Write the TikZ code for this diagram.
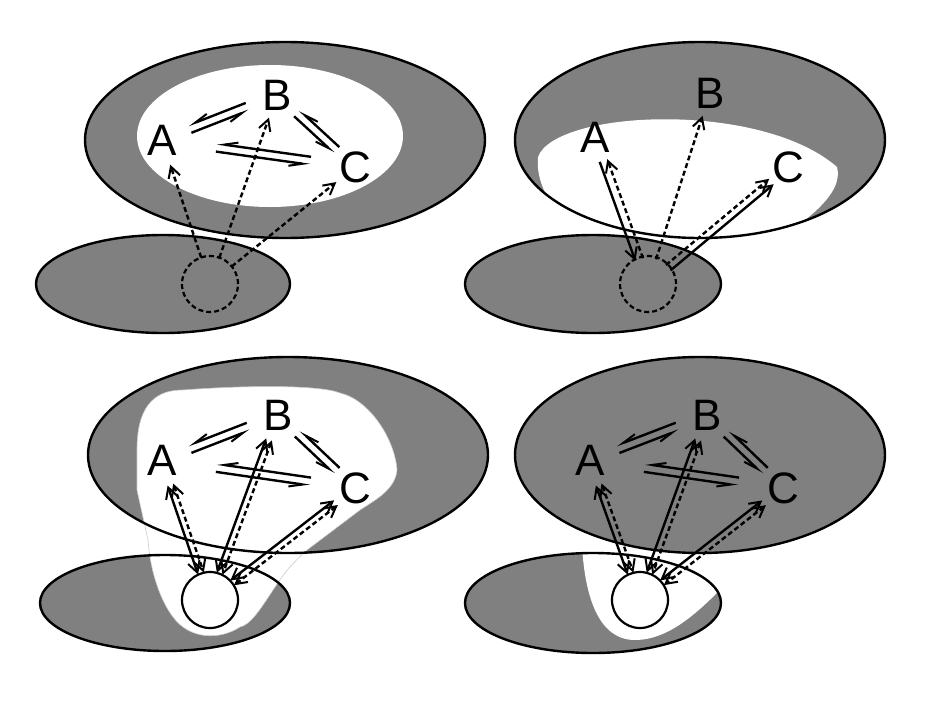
\documentclass[tikz,border=0pt]{standalone}
\usepackage{fontspec}
\setmainfont{Liberation Sans}
\usetikzlibrary{calc,arrows.meta}
\definecolor{gr}{HTML}{808080}
\tikzset{
  lab/.style={font=\fontsize{44}{44}\selectfont, inner sep=0pt},
  arr/.style={line width=2.4pt,-{Straight Barb[length=11pt,width=12pt,line width=2pt]}},
  harr/.style={line width=2.4pt,-{Straight Barb[harpoon,swap,length=14pt,width=8pt,line width=2pt]}},
  darr/.style={arr,dash pattern=on 5pt off 3pt},
  dbarr/.style={darr,{Straight Barb[length=11pt,width=12pt,line width=2pt]}-{Straight Barb[length=11pt,width=12pt,line width=2pt]}},
  sbarr/.style={arr,{Straight Barb[length=11pt,width=12pt,line width=2pt]}-{Straight Barb[length=11pt,width=12pt,line width=2pt]}},
  outl/.style={draw=black,line width=2.4pt},
  hole/.style={circle,minimum size=56pt,inner sep=0pt,line width=2.2pt,draw=black}
}
% #1 from, #2 to, #3 start dist, #4 end dist, #5 offset, #6 style
\newcommand\parr[6]{\draw[#6] ($(#1)!#3!(#2)!#5!-90:(#2)$) -- ($(#2)!#4!(#1)!#5!90:(#1)$);}
\newcommand\tri[1]{%
  \parr{A#1}{B#1}{30pt}{32pt}{4pt}{harr}
  \parr{B#1}{A#1}{32pt}{30pt}{4pt}{harr}
  \parr{B#1}{C#1}{27pt}{25pt}{4pt}{harr}
  \parr{C#1}{B#1}{25pt}{27pt}{4pt}{harr}
  \parr{A#1}{C#1}{55pt}{45pt}{4pt}{harr}
  \parr{C#1}{A#1}{45pt}{55pt}{4pt}{harr}}
\begin{document}
\begin{tikzpicture}[x=1pt,y=-1pt]
\useasboundingbox[fill=white] (0,0) rectangle (930,702);
% ---------- top left
\fill[gr] (285,140) ellipse [x radius=200,y radius=98];
\fill[white] (270,136) ellipse [x radius=133,y radius=71];
\draw[outl] (285,140) ellipse [x radius=200,y radius=98];
\filldraw[gr,outl] (163,284) ellipse [x radius=127,y radius=49];
\node[hole,dashed,dash pattern=on 5pt off 3pt] (O1) at (210,284) {};
\node[lab] (A1) at (162,140) {A};
\node[lab] (B1) at (277,95) {B};
\node[lab] (C1) at (355,167) {C};
\tri{1}
\draw[darr] ($(O1)!28pt!(A1)$) -- ($(A1)!26pt!(O1)$);
\draw[darr] ($(O1)!28pt!(B1)$) -- ($(B1)!24pt!(O1)$);
\draw[darr] ($(O1)!28pt!(C1)$) -- ($(C1)!24pt!(O1)$);
% ---------- top right
\fill[gr] (700,140) ellipse [x radius=185,y radius=98];
\begin{scope}
\clip (700,140) ellipse [x radius=185,y radius=98];
\fill[white] (538,157) .. controls (555,110) and (760,100) .. (837,167) .. controls (845,195) and (800,225) .. (770,245) -- (590,245) .. controls (560,220) and (535,190) .. (538,157);
\end{scope}
\draw[outl] (700,140) ellipse [x radius=185,y radius=98];
\filldraw[gr,outl] (593,284) ellipse [x radius=128,y radius=49];
\node[hole,dashed,dash pattern=on 5pt off 3pt] (O2) at (648,284) {};
\node[lab] (A2) at (595,137) {A};
\node[lab] (B2) at (710,93) {B};
\node[lab] (C2) at (788,167) {C};
\parr{A2}{O2}{25pt}{26pt}{4pt}{arr}
\parr{O2}{A2}{26pt}{25pt}{4pt}{darr}
\draw[darr] ($(O2)!26pt!(B2)$) -- ($(B2)!24pt!(O2)$);
\parr{O2}{C2}{26pt}{22pt}{4pt}{arr}
\parr{O2}{C2}{26pt}{22pt}{-3pt}{darr}
% ---------- bottom left
\fill[gr] (288,455) ellipse [x radius=200,y radius=98];
\fill[gr] (165,603) ellipse [x radius=125,y radius=48];
\filldraw[white,draw=gray!40,line width=0.6pt] (137,450) .. controls (137,400) and (160,390) .. (183,390)
  .. controls (250,385) and (320,385) .. (340,393) .. controls (370,400) and (395,440) .. (397,470)
  .. controls (395,490) and (375,500) .. (360,510) -- (307,550) .. controls (285,570) and (280,580) .. (273,590)
  .. controls (260,610) and (250,625) .. (240,627) .. controls (220,640) and (190,640) .. (173,617)
  .. controls (160,600) and (150,570) .. (148,540) -- (137,490) -- cycle;
\draw[outl] (288,455) ellipse [x radius=200,y radius=98];
\draw[outl] (165,603) ellipse [x radius=125,y radius=48];
\node[hole,fill=white] (O3) at (210,600) {};
\node[lab] (A3) at (162,460) {A};
\node[lab] (B3) at (278,415) {B};
\node[lab] (C3) at (355,488) {C};
\tri{3}
\parr{A3}{O3}{26pt}{28pt}{3pt}{sbarr}
\parr{A3}{O3}{26pt}{28pt}{-3pt}{dbarr}
\parr{B3}{O3}{26pt}{28pt}{3pt}{sbarr}
\parr{B3}{O3}{26pt}{28pt}{-3pt}{dbarr}
\parr{C3}{O3}{24pt}{28pt}{3pt}{sbarr}
\parr{C3}{O3}{24pt}{28pt}{-3pt}{dbarr}
% ---------- bottom right
\fill[gr] (700,455) ellipse [x radius=185,y radius=98];
\fill[gr] (593,603) ellipse [x radius=128,y radius=50];
\begin{scope}
\clip (593,603) ellipse [x radius=128,y radius=50];
\fill[white] (582,545) .. controls (585,600) and (600,640) .. (635,640) .. controls (670,640) and (700,610) .. (725,585) -- (725,545) -- cycle;
\end{scope}
\draw[outl] (700,455) ellipse [x radius=185,y radius=98];
\draw[outl] (593,603) ellipse [x radius=128,y radius=50];
\node[hole,fill=white] (O4) at (640,600) {};
\node[lab] (A4) at (590,460) {A};
\node[lab] (B4) at (707,415) {B};
\node[lab] (C4) at (783,488) {C};
\tri{4}
\parr{A4}{O4}{26pt}{28pt}{3pt}{sbarr}
\parr{A4}{O4}{26pt}{28pt}{-3pt}{dbarr}
\parr{B4}{O4}{26pt}{28pt}{3pt}{sbarr}
\parr{B4}{O4}{26pt}{28pt}{-3pt}{dbarr}
\parr{C4}{O4}{24pt}{28pt}{3pt}{sbarr}
\parr{C4}{O4}{24pt}{28pt}{-3pt}{dbarr}
\end{tikzpicture}
\end{document}
